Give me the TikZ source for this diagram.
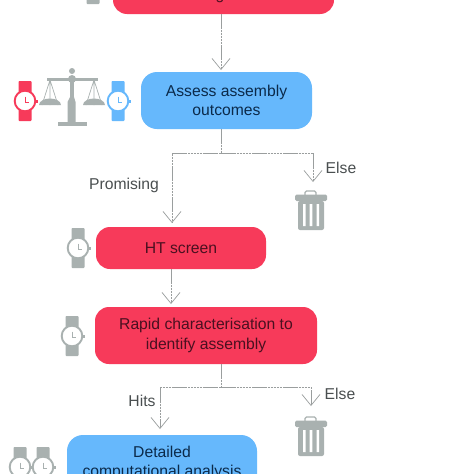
\documentclass[tikz,border=0pt]{standalone}
\usepackage{fontspec}
\setmainfont{Liberation Sans}
\usetikzlibrary{arrows.meta}
\definecolor{rd}{HTML}{F73A5A}
\definecolor{bl}{HTML}{66B8FC}
\definecolor{gy}{HTML}{A9B1B0}
\definecolor{rdtx}{HTML}{4A1020}
\definecolor{bltx}{HTML}{0B2A4A}
\definecolor{lbl}{HTML}{4A4F50}
\definecolor{conncol}{HTML}{9A9E9E}
\tikzset{
  box/.style={rounded corners=#1, inner sep=0pt, font=\fontsize{15.7}{19.7}\selectfont, align=center},
  redbox/.style={box=14pt, fill=rd, text=rdtx},
  bluebox/.style={box=16pt, fill=bl, text=bltx},
  lab/.style={font=\fontsize{15.7}{18}\selectfont, text=lbl, inner sep=0pt},
  conn/.style={draw=conncol, line width=0.7pt, dash pattern=on 2.5pt off 0.6pt},
  arr/.style={conn, -{Straight Barb[length=11pt,width=18pt,line width=0.7pt,color=conncol]}},
  pics/watch/.style={code={
    \fill[#1, rounded corners=0.8pt] (-6.5,-20) rectangle (6.5,20);
    \fill[#1] (10,-1.5) rectangle (12.5,1.5);
    \draw[#1, fill=white, line width=1.9pt] (0,0) circle (10.3);
    \draw[#1, line width=1pt] (0,-4.5) -- (0,1) -- (3.5,1);
  }},
  pics/trash/.style={code={
    \draw[gy, line width=1.3pt, rounded corners=1.5pt] (10,5) -- (10,1) -- (21,1) -- (21,5);
    \fill[gy, rounded corners=1.5pt] (0,4.5) rectangle (32,11);
    \fill[gy, rounded corners=2pt] (3,11) rectangle (29,40);
    \fill[white] (8,14) rectangle (10.5,36) (14.7,14) rectangle (17.3,36) (21.5,14) rectangle (24,36);
  }},
}
\begin{document}
\begin{tikzpicture}[x=1pt,y=-1pt]
\useasboundingbox[fill=white] (0,0) rectangle (474,474);
\clip (0,0) rectangle (474,474);
% boxes
\node[redbox, minimum width=221pt, minimum height=34pt] (top) at (223.5,-3) {};
\node[bluebox, minimum width=171pt, minimum height=57pt] (assess) at (226.5,100.5) {Assess assembly\\outcomes};
\node[redbox, minimum width=170pt, minimum height=42pt] (ht) at (181,248) {HT screen};
\node[redbox, minimum width=222pt, minimum height=57pt] (rapid) at (206,335.5) {Rapid characterisation to\\identify assembly};
\node[bluebox, minimum width=190pt, minimum height=56pt] (detail) at (162,463) {Detailed\\computational analysis};
\node[font=\fontsize{15.7}{18}\selectfont, text=rdtx, inner sep=0pt, anchor=base] (toptext) at (220,-1) {g};
% connector junctions and free ends
\coordinate (j1) at (221,153);
\coordinate (j1l) at (172,153);
\coordinate (j1r) at (313,153);
\coordinate (end1l) at (172,223);
\coordinate (end1r) at (313,182);
\coordinate (j2) at (221,387);
\coordinate (j2l) at (160,387);
\coordinate (j2r) at (311,387);
\coordinate (end2l) at (160,429);
\coordinate (end2r) at (311,406);
\coordinate (topout) at (221,14);
\coordinate (assessin) at (221,70);
\coordinate (assessout) at (221,129);
\coordinate (htout) at (171,269);
\coordinate (rapidin) at (171,304);
\coordinate (rapidout) at (221,364);
% connectors
\draw[arr] (topout) -- (assessin);
\draw[conn] (assessout) -- (j1);
\draw[arr] (j1) -- (j1l) -- (end1l);
\draw[arr] (j1) -- (j1r) -- (end1r);
\draw[arr] (htout) -- (rapidin);
\draw[conn] (rapidout) -- (j2);
\draw[arr] (j2) -- (j2l) -- (end2l);
\draw[arr] (j2) -- (j2r) -- (end2r);
% labels
\node[lab] (promising) at (124,185) {Promising};
\node[lab] (else1) at (341,168) {Else};
\node[lab] (hits) at (142,401) {Hits};
\node[lab] (else2) at (340,394) {Else};
% icons
\pic at (93,-16) {watch=gy};
\pic at (25,101) {watch=rd};
\pic at (118,101) {watch=bl};
\pic at (78,248) {watch=gy};
\pic at (72,336) {watch=gy};
\pic at (20,467) {watch=gy};
\pic at (43,467) {watch=gy};
\pic at (295,190) {trash};
\pic at (295,416) {trash};
% balance scale
\fill[gy] (72,71) circle (3);
\fill[gy] (47,77.5) rectangle (98,80.5);
\fill[gy] (72,79) circle (4);
\fill[gy] (70.2,80) -- (73.8,80) -- (74,97) -- (75.5,102) -- (75.5,122) -- (67.5,122) -- (67.5,102) -- (70,97) -- cycle;
\fill[gy] (58,122) rectangle (87,125.5);
\draw[gy, line width=0.7pt] (42,105) -- (50,80) -- (58,105) (50,80) -- (50,105);
\draw[gy, line width=0.7pt] (86,105) -- (94,80) -- (102,105) (94,80) -- (94,105);
\fill[gy] (39,105) -- (61,105) arc[start angle=0, end angle=180, x radius=11, y radius=-6.5] -- cycle;
\fill[gy] (83,105) -- (105,105) arc[start angle=0, end angle=180, x radius=11, y radius=-6.5] -- cycle;
\end{tikzpicture}
\end{document}
